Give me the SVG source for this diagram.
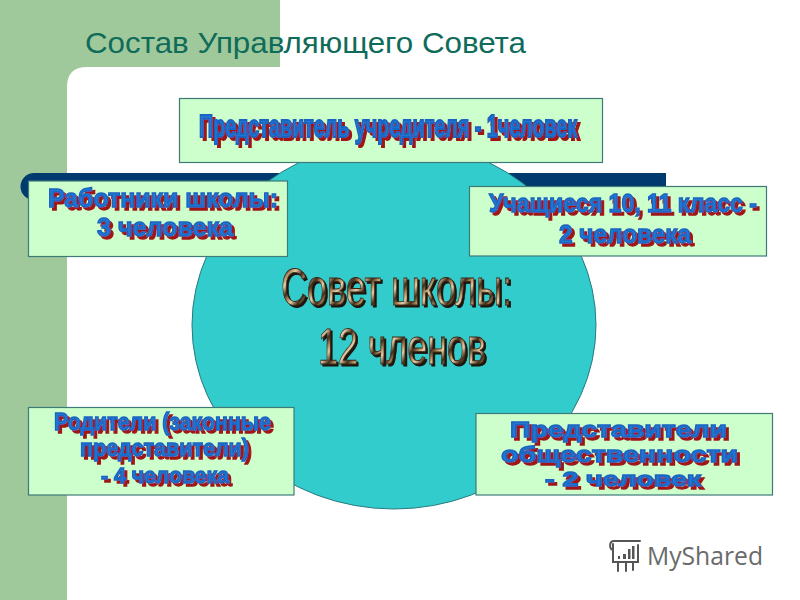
<svg xmlns="http://www.w3.org/2000/svg" width="800" height="600" viewBox="0 0 800 600">
<style>
.box{fill:#ccffcc;stroke:#3f7a7a;stroke-width:1.2}
.wa{font-family:"Liberation Sans",Arial,sans-serif;font-weight:700;fill:#2078d0;stroke:#1a62c0;stroke-width:1.3;filter:url(#sh)}
.big{font-family:"Liberation Sans",Arial,sans-serif;fill:url(#tex);stroke:#3a2818;stroke-width:.8;filter:url(#sh2)}
.title{font-family:"Liberation Sans",Arial,sans-serif;font-size:30px;fill:#0f6b5a}
.logo{fill:none;stroke:#555;stroke-width:2}
</style>
<defs>
<filter id="sh" x="-5%" y="-20%" width="110%" height="150%">
<feOffset in="SourceAlpha" dx="3" dy="3" result="o"/>
<feFlood flood-color="#a01818"/>
<feComposite in2="o" operator="in" result="s"/>
<feMerge><feMergeNode in="s"/><feMergeNode in="SourceGraphic"/></feMerge>
</filter>
<filter id="shT" x="-5%" y="-20%" width="110%" height="150%">
<feOffset in="SourceAlpha" dx="3" dy="2" result="o"/>
<feFlood flood-color="#a01818"/>
<feComposite in2="o" operator="in" result="s"/>
<feMerge><feMergeNode in="s"/><feMergeNode in="SourceGraphic"/></feMerge>
</filter>
<filter id="sh2" x="-5%" y="-20%" width="110%" height="150%">
<feOffset in="SourceAlpha" dx="1.500" dy="1.500" result="o"/>
<feFlood flood-color="#1c1208"/>
<feComposite in2="o" operator="in" result="s"/>
<feMerge><feMergeNode in="s"/><feMergeNode in="SourceGraphic"/></feMerge>
</filter>
<linearGradient id="tex" gradientUnits="userSpaceOnUse" x1="0" y1="0" x2="12" y2="9" spreadMethod="repeat">
<stop offset="0" stop-color="#3a2818"/><stop offset="0.35" stop-color="#b89468"/><stop offset="0.6" stop-color="#e4cea8"/><stop offset="1" stop-color="#4a3420"/>
</linearGradient>
</defs>
<rect width="800" height="600" fill="#fff"/>
<g id="background">
<path d="M0 0H280V67H87Q67 67 67 87V600H0Z" fill="#9fc99a"/>
<path d="M34 173H666V200H34A13.500 13.500 0 0 1 34 173Z" fill="#003a6e"/>
</g>
<text id="title" class="title" x="85" y="53" textLength="441" lengthAdjust="spacingAndGlyphs">Состав Управляющего Совета</text>
<g id="connectors"></g>
<g id="council">
<ellipse cx="394" cy="325" rx="202" ry="184" fill="#33cccc" stroke="#2a7a80" stroke-width="1"/>
<text class="big" x="281" y="305" font-size="52" textLength="231" lengthAdjust="spacingAndGlyphs">Совет школы:</text>
<text class="big" x="318" y="364" font-size="50" textLength="168" lengthAdjust="spacingAndGlyphs">12 членов</text>
</g>
<g id="node-founder">
<rect class="box" x="179.500" y="98.500" width="423" height="64"/>
<text class="wa" style="filter:url(#shT)" transform="translate(199 136.500) scale(1 1.500)" font-size="21" textLength="378" lengthAdjust="spacingAndGlyphs">Представитель учредителя - 1человек</text>
</g>
<g id="node-staff">
<rect class="box" x="28.500" y="181" width="259" height="75.500"/>
<text class="wa" x="48" y="207" font-size="26" textLength="230" lengthAdjust="spacingAndGlyphs">Работники школы:</text>
<text class="wa" x="97" y="236" font-size="26" textLength="136" lengthAdjust="spacingAndGlyphs">3 человека</text>
</g>
<g id="node-students">
<rect class="box" x="469.500" y="186.500" width="297" height="69.500"/>
<text class="wa" x="489" y="212" font-size="26" textLength="268" lengthAdjust="spacingAndGlyphs">Учащиеся 10, 11 класс -</text>
<text class="wa" x="559" y="243" font-size="26" textLength="132" lengthAdjust="spacingAndGlyphs">2 человека</text>
</g>
<g id="node-parents">
<rect class="box" x="28.500" y="407.500" width="265.500" height="87.500"/>
<text class="wa" x="54" y="430" font-size="24" textLength="217" lengthAdjust="spacingAndGlyphs">Родители (законные</text>
<text class="wa" x="80" y="456" font-size="24" textLength="169" lengthAdjust="spacingAndGlyphs">представители)</text>
<text class="wa" x="101" y="483" font-size="22" textLength="128" lengthAdjust="spacingAndGlyphs">- 4 человека</text>
</g>
<g id="node-public">
<rect class="box" x="476" y="413.500" width="296.500" height="81.500"/>
<text class="wa" x="510" y="437" font-size="22" textLength="217" lengthAdjust="spacingAndGlyphs">Представители</text>
<text class="wa" x="501" y="462" font-size="22" textLength="237" lengthAdjust="spacingAndGlyphs">общественности</text>
<text class="wa" x="545" y="486" font-size="20" textLength="156" lengthAdjust="spacingAndGlyphs">- 2 человек</text>
</g>
<g id="logo">
<path class="logo" d="M614 541H640M614 541C609 541 609 549 613 550V556M613 544V562H638V545M618 562V571M626 562V571M633 562V570" stroke-linecap="round"/>
<path d="M618 556h2v3h-2zM623 554h3v5h-3zM628 549h2.500v10H628zM632 546h2.500v13H632z" fill="#555"/>
<text x="647" y="565" font-family="'Open Sans','Noto Sans',sans-serif" font-size="26" fill="#6a6a6a" textLength="116" lengthAdjust="spacingAndGlyphs">MyShared</text>
</g>
</svg>
